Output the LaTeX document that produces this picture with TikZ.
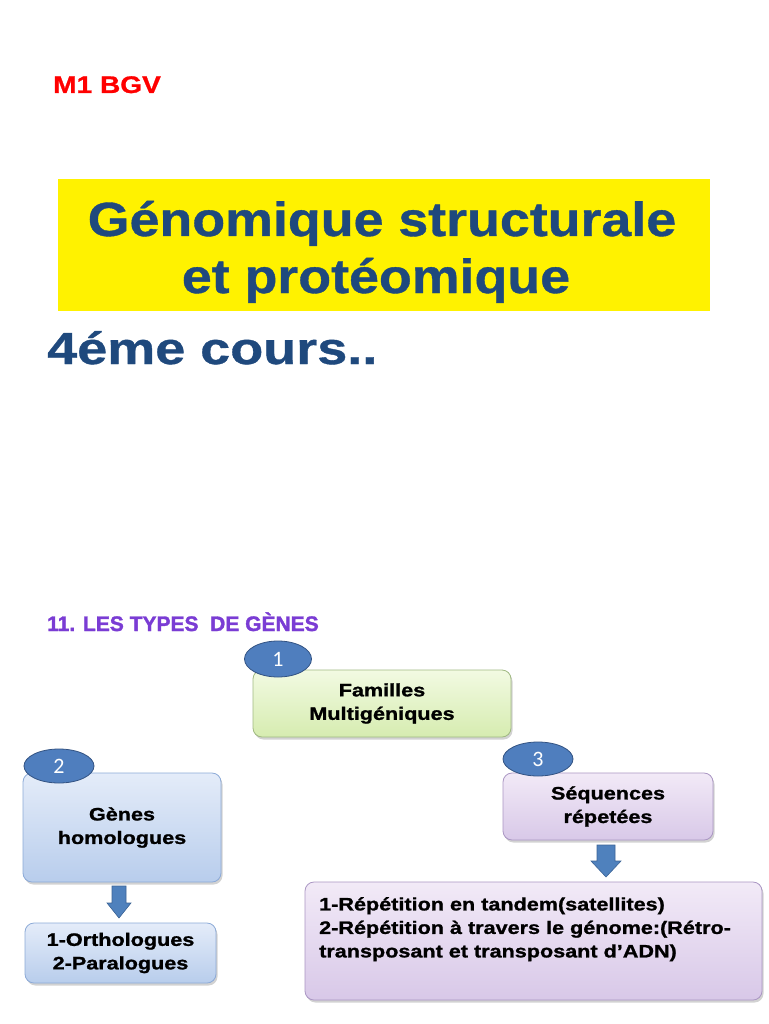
\documentclass[tikz,border=0pt]{standalone}
\usepackage{fontspec}
\setmainfont{Liberation Sans}
\newfontfamily\numfont{Carlito}
\newfontfamily\titlefont{Liberation Sans}[FakeStretch=1.12,BoldFeatures={FakeBold=0.8}]
\newfontfamily\boxfont{Liberation Sans}[FakeStretch=1.2,BoldFeatures={FakeBold=1.2}]
\newfontfamily\redfont{Liberation Sans}[FakeStretch=1.17,BoldFeatures={FakeBold=1}]
\newfontfamily\coursfont{Liberation Sans}[FakeStretch=1.2,BoldFeatures={FakeBold=0.8}]
\newfontfamily\headfont{Liberation Sans}[BoldFeatures={FakeBold=1.5}]
\usetikzlibrary{shapes.geometric,shadows,calc}
\definecolor{titleblue}{RGB}{31,73,125}
\definecolor{headpurple}{RGB}{122,60,212}
\definecolor{ovalfill}{RGB}{79,126,190}
\definecolor{ovaldraw}{RGB}{50,82,130}
\definecolor{greentop}{RGB}{242,250,226}
\definecolor{greenbot}{RGB}{214,236,176}
\definecolor{greenline}{RGB}{160,185,130}
\definecolor{bluetop}{RGB}{228,236,249}
\definecolor{bluebot}{RGB}{184,205,236}
\definecolor{blueline}{RGB}{140,170,215}
\definecolor{purptop}{RGB}{242,234,247}
\definecolor{purpbot}{RGB}{216,200,232}
\definecolor{purpline}{RGB}{170,150,195}
\definecolor{arrowblue}{RGB}{79,129,189}
\definecolor{arrowline}{RGB}{60,100,150}
\tikzset{
  x=1pt,y=-1pt,
  boxbase/.style={rounded corners=9pt, line width=0.8pt, align=center,
    font=\boxfont\fontsize{18}{23.5}\selectfont\bfseries, inner sep=0pt,
    drop shadow={opacity=0.35, shadow xshift=1.5pt, shadow yshift=-2.5pt}},
  greenbox/.style={boxbase, draw=greenline, top color=greentop, bottom color=greenbot},
  bluebox/.style={boxbase, draw=blueline, top color=bluetop, bottom color=bluebot},
  purpbox/.style={boxbase, draw=purpline, top color=purptop, bottom color=purpbot},
  oval/.style={ellipse, draw=ovaldraw, line width=0.8pt, fill=ovalfill, text=white,
    font=\numfont\fontsize{22}{24}\selectfont, inner sep=0pt},
  blockarrow/.style={fill=arrowblue, draw=arrowline, line width=0.6pt},
  titletext/.style={text=titleblue, font=\titlefont\fontsize{48}{50}\selectfont\bfseries, inner sep=0pt}
}
\begin{document}
\begin{tikzpicture}
\useasboundingbox (0,0) rectangle (768,1024);
\fill[white] (0,0) rectangle (768,1024);

% header
\node[anchor=base west, inner sep=0pt, text=red, font=\redfont\fontsize{24}{26}\selectfont\bfseries] (m1) at (53,93) {M1 BGV};

% title band
\fill[yellow] (58,179) rectangle (710,311);
\node[titletext, anchor=base] (t1) at (382,236) {Génomique structurale};
\node[titletext, anchor=base] (t2) at (376,293) {et protéomique};
\node[anchor=base west, inner sep=0pt, text=titleblue, font=\coursfont\fontsize{45}{50}\selectfont\bfseries] (cours) at (47,364) {4éme cours..};

% section heading
\node[anchor=base west, inner sep=0pt, text=headpurple, font=\headfont\fontsize{21}{24}\selectfont\bfseries] (head) at (47,631) {11. LES TYPES\ \ DE GÈNES};

% boxes
\node[greenbox, minimum width=258, minimum height=67] (fam) at (382,703.5) {Familles\\Multigéniques};
\node[bluebox, minimum width=198, minimum height=109] (hom) at (122,827.5) {Gènes\\homologues};
\node[bluebox, minimum width=191, minimum height=60] (orth) at (120.5,953) {1-Orthologues\\2-Paralogues};
\node[purpbox, minimum width=210, minimum height=67] (seq) at (608,806.5) {Séquences\\répetées};
\node[purpbox, minimum width=457, minimum height=118] (rep) at (533.5,941) {};
\node[anchor=north west, align=left, inner sep=0pt, font=\boxfont\fontsize{18}{23.5}\selectfont\bfseries] (reptxt) at (319,897)
  {1-Répétition en tandem(satellites)\\2-Répétition à travers le génome:(Rétro-\\transposant et transposant d’ADN)};

% numbered ovals
\node[oval, minimum width=67, minimum height=36] (o1) at (278,659) {1};
\node[oval, minimum width=70, minimum height=34] (o2) at (59,766) {2};
\node[oval, minimum width=70, minimum height=34] (o3) at (538,759) {3};

% block arrows
\coordinate (a1) at (119,886);
\draw[blockarrow] ($(a1)+(-7,0)$) -- ($(a1)+(7,0)$) -- ($(a1)+(7,17)$) -- ($(a1)+(12,17)$)
  -- ($(a1)+(0,32)$) -- ($(a1)+(-12,17)$) -- ($(a1)+(-7,17)$) -- cycle;
\coordinate (a2) at (606,845);
\draw[blockarrow] ($(a2)+(-9,0)$) -- ($(a2)+(9,0)$) -- ($(a2)+(9,16)$) -- ($(a2)+(15,16)$)
  -- ($(a2)+(0,32)$) -- ($(a2)+(-15,16)$) -- ($(a2)+(-9,16)$) -- cycle;
\end{tikzpicture}
\end{document}
